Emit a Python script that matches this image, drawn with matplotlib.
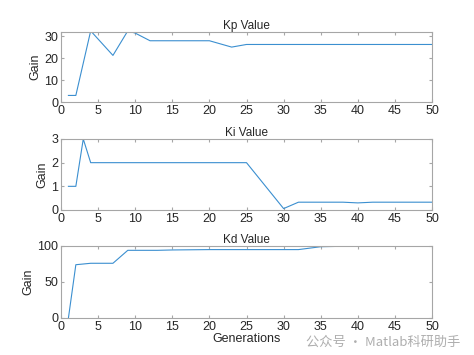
import matplotlib
matplotlib.use("Agg")
import matplotlib.pyplot as plt

# ── Data (breakpoints of each curve) ─────────────────────────────────────────
kp_gen = [1, 2, 4, 7, 9, 10, 12, 20, 23, 25, 50]
kp_val = [3, 3, 32.5, 21.3, 32.5, 31.5, 28, 28, 25.1, 26.3, 26.3]

ki_gen = [1, 2, 3, 4, 25, 30, 32, 38, 40, 42, 43, 50]
ki_val = [1, 1, 3, 2, 2, 0.06, 0.33, 0.33, 0.30, 0.33, 0.33, 0.33]

kd_gen = [1, 2, 4, 7, 9, 13, 15, 20, 32, 35, 40, 50]
kd_val = [0, 74, 76, 76, 94, 94, 94.5, 95, 95, 99, 100, 100]

titles = ["Kp Value", "Ki Value", "Kd Value"]
ylims = [(0, 32), (0, 3), (0, 100)]
yticks = [[0, 10, 20, 30], [0, 1, 2, 3], [0, 50, 100]]
xticks = list(range(0, 51, 5))

LINE_COLOR = "#3b8fd0"
SPINE_COLOR = "#a6a6a6"
TEXT_COLOR = "#262626"

plt.rcParams["font.family"] = ["Liberation Sans", "DejaVu Sans"]

fig = plt.figure(figsize=(4.74, 3.55), dpi=100)
fig.patch.set_facecolor("white")

# axes boxes in pixels: (left, top, bottom); right edge is 432 for all
W, H = 474, 355
boxes = [(61, 32, 102), (61, 139, 210), (61, 246, 318)]
series = [(kp_gen, kp_val), (ki_gen, ki_val), (kd_gen, kd_val)]

for i, ((x0, top, bot), (gx, gy)) in enumerate(zip(boxes, series)):
    ax = fig.add_axes([x0 / W, 1 - bot / H, (432 - x0) / W, (bot - top) / H])
    ax.plot(gx, gy, color=LINE_COLOR, linewidth=0.8)
    ax.set_xlim(0, 50)
    ax.set_ylim(*ylims[i])
    ax.set_xticks(xticks)
    ax.set_yticks(yticks[i])
    ax.set_title(titles[i], fontsize=8.5, color=TEXT_COLOR, pad=2)
    ax.set_ylabel("Gain", fontsize=9, color=TEXT_COLOR, labelpad=2)
    for s in ax.spines.values():
        s.set_color(SPINE_COLOR)
        s.set_linewidth(0.8)
    ax.tick_params(direction="in", length=2.5, color=SPINE_COLOR,
                   labelcolor=TEXT_COLOR, labelsize=9, pad=2,
                   top=True, right=True)
    if i == 2:
        ax.set_xlabel("Generations", fontsize=9, color=TEXT_COLOR, labelpad=0)

# watermark
fig.text(460 / W, 1 - 342 / H, "公众号 · Matlab科研助手", ha="right", va="center",
         fontsize=9.5, color="#a0a0a0", alpha=0.85,
         family=["Noto Sans CJK SC", "DejaVu Sans"])

fig.savefig("out.png", dpi=100, facecolor="white")
